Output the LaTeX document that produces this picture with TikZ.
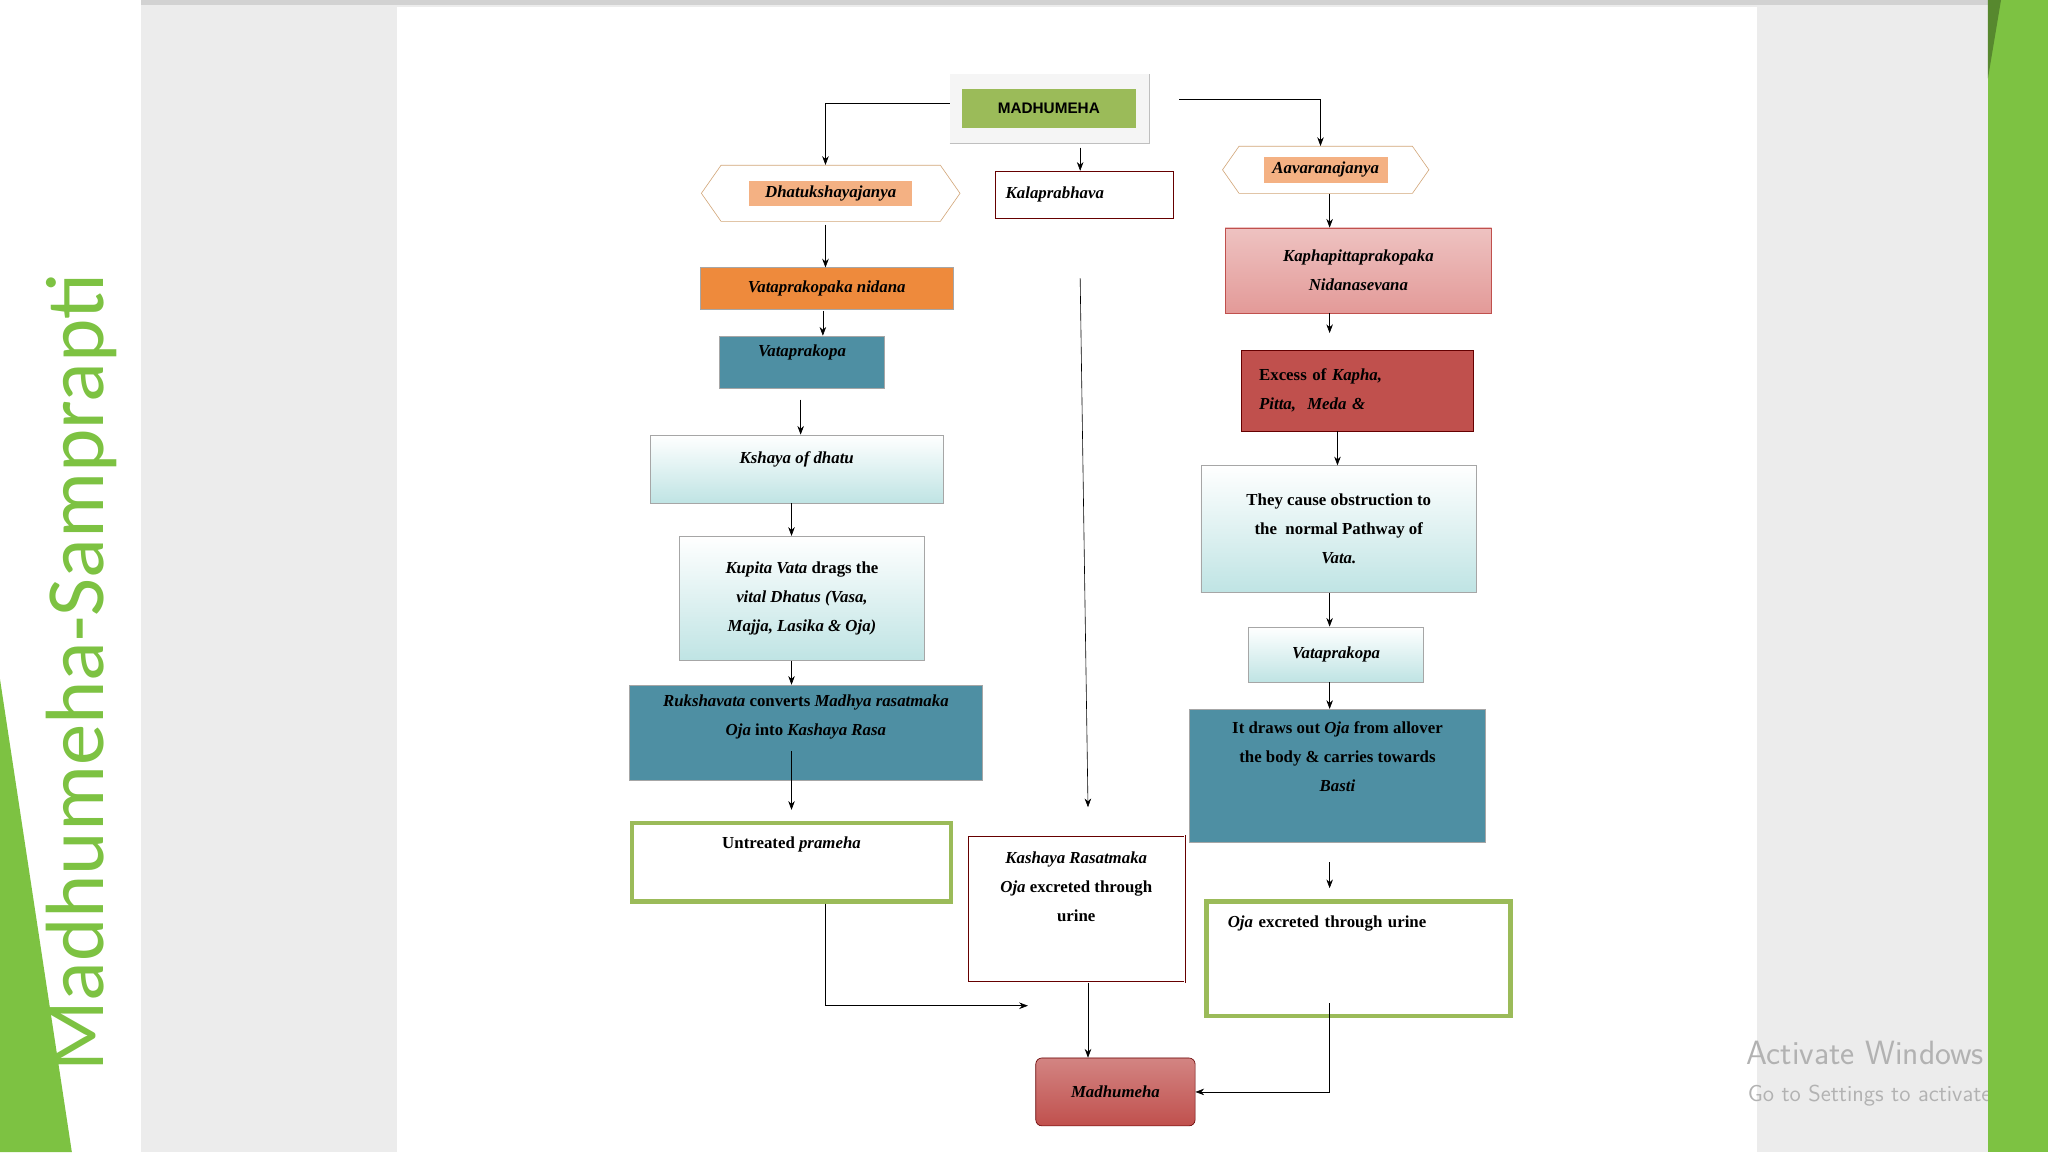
\documentclass[tikz,border=0pt]{standalone}
\usepackage{fontspec}
\setmainfont{Liberation Serif}
\newfontfamily\titlefont{Carlito}
\newfontfamily\headfont{Liberation Sans}
\usepackage{xcolor}
\usetikzlibrary{arrows.meta, shapes.symbols}
\definecolor{slidegreen}{HTML}{7DC242}
\definecolor{tealbox}{HTML}{4E8FA3}
\definecolor{orangebox}{HTML}{EE8A3C}
\definecolor{peach}{HTML}{F4B183}
\definecolor{redbox}{HTML}{C0504D}
\definecolor{pinkbox}{HTML}{E39A98}
\definecolor{olive}{HTML}{9BBB59}

\begin{document}
\begin{tikzpicture}[
    x=0.03cm, y=-0.03cm,
    box/.style={rectangle, draw=gray!70, align=center, inner sep=2pt,
        font=\fontsize{11}{19}\selectfont\bfseries\itshape},
    tealb/.style={box, fill=tealbox},
    lightb/.style={box, top color=white, bottom color=cyan!15!teal!25},
    greenb/.style={box, draw=olive, line width=3pt, fill=white},
    hexa/.style={signal, signal to=east and west, draw=brown!70, fill=white, signal pointer angle=110},
    arrow/.style={-{Stealth[length=2mm]}, thin},
    line/.style={thin}
]
\useasboundingbox (0,0) rectangle (1568,882);
% slide background
\fill[gray!15] (108,0) rectangle (1522,882);
\fill[gray!35] (108,0) rectangle (1522,4);
\fill[white] (304,5) rectangle (1345,882);
\fill[slidegreen] (1522,0) rectangle (1568,882);
\fill[slidegreen!70!black] (1522,0) -- (1532,0) -- (1522,60) -- cycle;
\fill[slidegreen] (0,520) -- (55,882) -- (0,882) -- cycle;
\node[rotate=90, text=slidegreen, font=\titlefont\fontsize{54}{54}\selectfont] (title) at (62,515) {Madhumeha-Samprapti};
\begin{scope}
\clip (1300,780) rectangle (1522,860);
\node[anchor=west, text=gray!60, font=\sffamily\fontsize{22}{24}\selectfont] (act) at (1333,806) {Activate Windows};
\node[anchor=west, text=gray!60, font=\sffamily\fontsize{15}{17}\selectfont] (go) at (1334,839) {Go to Settings to activate};
\end{scope}

% top node
\fill[gray!8] (727,57) rectangle (880,110);
\draw[gray!50] (727,110) -- (880,110) -- (880,57);
\node[rectangle, fill=olive, minimum width=133*0.03cm, minimum height=30*0.03cm, font=\headfont\bfseries\fontsize{10}{12}\selectfont] (top) at (803,83) {MADHUMEHA};
\coordinate (topL) at (727,79);
\coordinate (topR) at (903,76);
\coordinate (topB) at (827,113);

% three branches
\node[hexa, minimum width=198*0.03cm, minimum height=43*0.03cm] (dhatu) at (636,148) {};
\node[fill=peach, font=\fontsize{11}{13}\selectfont\bfseries\itshape, minimum width=125*0.03cm] at (dhatu) {Dhatukshayajanya};
\node[box, draw=red!40!black, fill=white, minimum width=136*0.03cm, minimum height=36*0.03cm, text width=120*0.03cm, align=left] (kala) at (830,149) {Kalaprabhava};
\node[hexa, minimum width=158*0.03cm, minimum height=36*0.03cm] (aavar) at (1015,130) {};
\node[fill=peach, font=\fontsize{11}{13}\selectfont\bfseries\itshape, minimum width=95*0.03cm] at (aavar) {Aavaranajanya};

% left column
\node[box, fill=orangebox, minimum width=193*0.03cm, minimum height=32*0.03cm] (nidana) at (633,221) {Vataprakopaka nidana};
\node[tealb, minimum width=126*0.03cm, minimum height=40*0.03cm, anchor=north] (vata1) at (614,257) {Vataprakopa\\[-4pt]\mbox{}};
\node[lightb, minimum width=224*0.03cm, minimum height=52*0.03cm] (kshaya) at (610,359) {Kshaya of dhatu\\[-4pt]\mbox{}};
\node[lightb, minimum width=188*0.03cm, minimum height=95*0.03cm] (kupita) at (614,458) {Kupita Vata \upshape drags the\\ vital \itshape Dhatus (Vasa,\\ Majja, Lasika \& Oja)};
\node[tealb, minimum width=270*0.03cm, minimum height=73*0.03cm] (ruksha) at (617,561) {Rukshavata \upshape converts \itshape Madhya rasatmaka\\ Oja \upshape into \itshape Kashaya Rasa\\[4pt]\mbox{}};
\node[greenb, minimum width=244*0.03cm, minimum height=60*0.03cm] (untreat) at (606,660) {\upshape Untreated \itshape prameha\\[6pt]\mbox{}};

% middle column
\coordinate (midtop) at (827,213);
\coordinate (midbot) at (833,618);
\node[box, draw=red!40!black, double, fill=white, minimum width=166*0.03cm, minimum height=112*0.03cm] (kashaya) at (824,696) {Kashaya Rasatmaka\\ Oja \upshape excreted through\\ \upshape urine\\[10pt]\mbox{}};
\coordinate (meet) at (787,770);

% right column
\node[box, top color=pinkbox!60, bottom color=pinkbox, draw=redbox, minimum width=204*0.03cm, minimum height=65*0.03cm] (kapha) at (1040,207) {Kaphapittaprakopaka\\ Nidanasevana};
\node[box, fill=redbox, draw=red!40!black, minimum width=178*0.03cm, minimum height=62*0.03cm, text width=150*0.03cm, align=left] (excess) at (1039,299) {\upshape Excess of \itshape Kapha,\\ Pitta, \ Meda \&};
\node[lightb, minimum width=211*0.03cm, minimum height=97*0.03cm] (obstr) at (1025,405) {\upshape They cause obstruction to\\ \upshape the \ normal Pathway of\\ Vata.};
\node[lightb, minimum width=134*0.03cm, minimum height=42*0.03cm] (vata2) at (1023,501) {Vataprakopa};
\node[tealb, minimum width=227*0.03cm, minimum height=102*0.03cm] (draws) at (1024,594) {\upshape It draws out \itshape Oja \upshape from allover\\ \upshape the body \& carries towards\\ Basti\\[6pt]\mbox{}};
\coordinate (rgap) at (1018,660);
\node[greenb, minimum width=233*0.03cm, minimum height=88*0.03cm, text width=200*0.03cm, align=left] (ojaur) at (1040,734) {Oja \upshape excreted through urine\\[30pt]\mbox{}};

% bottom node
\node[box, rounded corners=4pt, top color=redbox!70, bottom color=redbox, draw=red!40!black, minimum width=122*0.03cm, minimum height=52*0.03cm] (final) at (854,836) {Madhumeha};

% arrows from top
\draw[arrow] (topL) -| ([xshift=-4*0.03cm]dhatu.north);
\draw[arrow] (topR) -| (aavar.north -| 1011,0);
\draw[arrow] (topB) -- (kala.north -| topB);

% left arrows
\draw[arrow] (632,172) -- (nidana.north -| 632,0);
\draw[arrow] (630,238) -- (vata1.north -| 630,0);
\draw[arrow] (613,306) -- (kshaya.north -| 613,0);
\draw[arrow] (kshaya.south -| 606,0) -- (kupita.north -| 606,0);
\draw[arrow] (kupita.south -| 606,0) -- (ruksha.north -| 606,0);
\draw[arrow] (606,575) -- (606,620);
\draw[arrow] (untreat.south -| 632,0) |- (meet);

% middle arrows
\draw[arrow] (midtop) -- (midbot);
\draw[arrow] (kashaya.south -| 833,0) -- (final.north -| 833,0);

% right arrows
\draw[arrow] (aavar.south -| 1018,0) -- (kapha.north -| 1018,0);
\draw[arrow] (kapha.south -| 1018,0) -- (1018,255);
\draw[arrow] (excess.south -| 1024,0) -- (obstr.north -| 1024,0);
\draw[arrow] (obstr.south -| 1018,0) -- (vata2.north -| 1018,0);
\draw[arrow] (vata2.south -| 1018,0) -- (draws.north -| 1018,0);
\draw[arrow] (rgap) -- (1018,680);
\draw[arrow] (1018,768) |- (final.east);
\end{tikzpicture}
\end{document}
